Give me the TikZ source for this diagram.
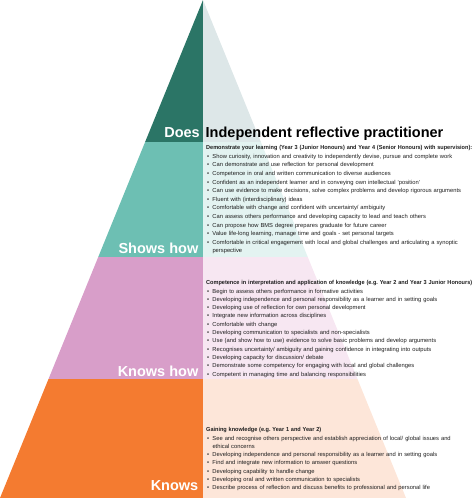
\documentclass[tikz,border=0pt]{standalone}
\usepackage{fontspec}
\setmainfont{Liberation Sans}
\frenchspacing

\definecolor{doesdark}{HTML}{2B7566}
\definecolor{doeslight}{HTML}{DDE7E8}
\definecolor{showsdark}{HTML}{6DBFB3}
\definecolor{showslight}{HTML}{E3F3F1}
\definecolor{knowshowdark}{HTML}{D89EC9}
\definecolor{knowshowlight}{HTML}{F7E7F2}
\definecolor{knowsdark}{HTML}{F47B30}
\definecolor{knowslight}{HTML}{FDE6D9}
\definecolor{bodytext}{HTML}{1E1E1E}

\tikzset{
  levellabel/.style={text=white, font=\fontsize{14.5}{17}\selectfont\bfseries, inner sep=0pt, anchor=base east},
  itemblock/.style={text=bodytext, font=\fontsize{5.8}{8.3}\selectfont, inner sep=0pt, anchor=north west, text width=280pt, align=left},
}

\newcommand{\bul}[1]{\par\hangindent=6.3pt\hangafter=1\hspace*{1pt}\makebox[5.3pt][l]{\textbullet}#1\par}
\newcommand{\listhead}[2]{\resizebox{#1}{\height}{\textbf{#2}}\par}

\begin{document}
\begin{tikzpicture}[x=1pt,y=-1pt]
\useasboundingbox (0,0) rectangle (474,498);
% pyramid bands
\begin{scope}
\clip (203,0) -- (406,498) -- (0,498) -- cycle;
\fill[doesdark] (0,0) rectangle (203,142);
\fill[doeslight] (203,0) rectangle (406,142);
\fill[showsdark] (0,142) rectangle (203,257);
\fill[showslight] (203,142) rectangle (406,257);
\fill[knowshowdark] (0,257) rectangle (203,379);
\fill[knowshowlight] (203,257) rectangle (406,379);
\fill[knowsdark] (0,379) rectangle (203,498);
\fill[knowslight] (203,379) rectangle (406,498);
\end{scope}
% level names
\node[levellabel] (does) at (200,137.7) {Does};
\node[text=black, font=\fontsize{14.5}{17}\selectfont\bfseries, inner sep=0pt, anchor=base west] (practitioner) at (205.5,137.7) {Independent reflective practitioner};
\node[levellabel] (showshow) at (198.5,253) {Shows how};
\node[levellabel] (knowshow) at (198.5,376.5) {Knows how};
\node[levellabel] (knows) at (198.5,490) {Knows};
% outcome lists
\node[itemblock, font=\fontsize{5.8}{8.6}\selectfont] (showslist) at (206,145.3) {%
\listhead{266pt}{Demonstrate your learning (Year 3 (Junior Honours) and Year 4 (Senior Honours) with supervision):}
\bul{Show curiosity, innovation and creativity to independently devise, pursue and complete work}
\bul{Can demonstrate and use reflection for personal development}
\bul{Competence in oral and written communication to diverse audiences}
\bul{Confident as an independent learner and in conveying own intellectual ‘position’}
\bul{Can use evidence to make decisions, solve complex problems and develop rigorous arguments}
\bul{Fluent with (interdisciplinary) ideas}
\bul{Comfortable with change and confident with uncertainty/ ambiguity}
\bul{Can assess others performance and developing capacity to lead and teach others}
\bul{Can propose how BMS degree prepares graduate for future career}
\bul{Value life-long learning, manage time and goals - set personal targets}
\bul{Comfortable in critical engagement with local and global challenges and articulating a synoptic\newline perspective}};
\node[itemblock] (knowshowlist) at (206,280.3) {%
\listhead{266pt}{Competence in interpretation and application of knowledge (e.g. Year 2 and Year 3 Junior Honours)}
\bul{Begin to assess others performance in formative activities}
\bul{Developing independence and personal responsibility as a learner and in setting goals}
\bul{Developing use of reflection for own personal development}
\bul{Integrate new information across disciplines}
\bul{Comfortable with change}
\bul{Developing communication to specialists and non-specialists}
\bul{Use (and show how to use) evidence to solve basic problems and develop arguments}
\bul{Recognises uncertainty/ ambiguity and gaining confidence in integrating into outputs}
\bul{Developing capacity for discussion/ debate}
\bul{Demonstrate some competency for engaging with local and global challenges}
\bul{Competent in managing time and balancing responsibilities}};
\node[itemblock] (knowslist) at (206,427.3) {%
\listhead{115pt}{Gaining knowledge (e.g. Year 1 and Year 2)}
\bul{See and recognise others perspective and establish appreciation of local/ global issues and\newline ethical concerns}
\bul{Developing independence and personal responsibility as a learner and in setting goals}
\bul{Find and integrate new information to answer questions}
\bul{Developing capability to handle change}
\bul{Developing oral and written communication to specialists}
\bul{Describe process of reflection and discuss benefits to professional and personal life}};
\end{tikzpicture}
\end{document}
